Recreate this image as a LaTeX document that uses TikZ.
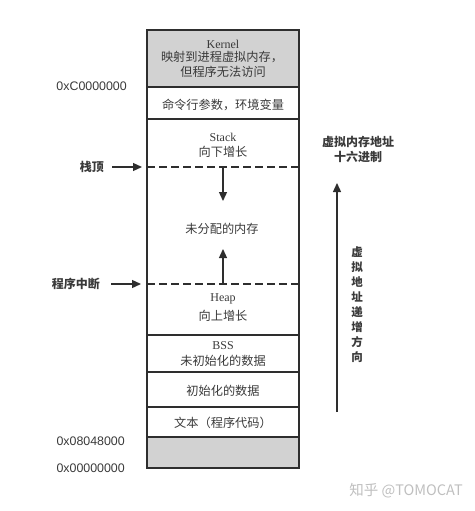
\documentclass[tikz,border=0pt]{standalone}
\usepackage{fontspec}
\setmainfont{Liberation Serif}
\newfontfamily\cjk{Noto Sans CJK SC}
\newfontfamily\hexf{Liberation Sans}
\usetikzlibrary{arrows.meta}
\definecolor{tx}{HTML}{3A3A3A}
\definecolor{ln}{HTML}{2E2E2E}
\definecolor{gfill}{HTML}{D2D2D2}
\begin{document}
\begin{tikzpicture}[x=1pt,y=-1pt,
 seg/.style={draw=ln,line width=1.5pt,anchor=north west,minimum width=152pt,inner sep=0pt,outer sep=0pt},
 lbl/.style={text=tx,font=\cjk\fontsize{12.2}{14}\selectfont,align=center,inner sep=0pt},
 en/.style={text=tx,font=\fontsize{12}{14}\selectfont,inner sep=0pt},
 hex/.style={text=tx,font=\hexf\fontsize{12.4}{14}\selectfont,anchor=east,inner sep=0pt},
 side/.style={text=tx,font=\cjk\bfseries\fontsize{12}{14}\selectfont,inner sep=0pt},
 arr/.style={draw=ln,line width=1.3pt,-{Triangle[length=9pt,width=8pt]}},
 dashline/.style={draw=ln,line width=1.3pt,dash pattern=on 8pt off 4pt}]
\useasboundingbox (0,0) rectangle (474,511);
% segments
\node[seg,fill=gfill,minimum height=57pt] (kern) at (147,30) {};
\node[seg,minimum height=32pt] (cmd) at (147,87) {};
\node[seg,minimum height=216pt] (mid) at (147,119) {};
\node[seg,minimum height=37pt] (bss) at (147,335) {};
\node[seg,minimum height=35pt] (data) at (147,372) {};
\node[seg,minimum height=30pt] (text) at (147,407) {};
\node[seg,fill=gfill,minimum height=31pt] (low) at (147,437) {};
% texts in segments
\node[en] (kt) at (223,44) {Kernel};
\node[lbl] (k1) at (222,57.5) {映射到进程虚拟内存，};
\node[lbl] (k2) at (223,71.5) {但程序无法访问};
\node[lbl] (ct) at (223,104.5) {命令行参数，环境变量};
\node[en] (st) at (223,137) {Stack};
\node[lbl] (st2) at (223,152) {向下增长};
\node[lbl] (un) at (222,229) {未分配的内存};
\node[en] (hp) at (223,299) {Heap};
\node[lbl] (hp2) at (223,316) {向上增长};
\node[en] (bs) at (223,346) {BSS};
\node[lbl] (bs2) at (223,361) {未初始化的数据};
\node[lbl] (dt) at (223,390.5) {初始化的数据};
\node[lbl] (tt) at (223,422.5) {文本（程序代码）};
% dashed boundaries
\coordinate (stl) at (147,167);
\coordinate (str) at (299,167);
\coordinate (hpl) at (147,284);
\coordinate (hpr) at (299,284);
\draw[dashline] (stl) -- (str);
\draw[dashline] (hpl) -- (hpr);
% growth arrows
\coordinate (ds) at (223,167);
\coordinate (de) at (223,201);
\coordinate (us) at (223,284);
\coordinate (ue) at (223,249);
\draw[arr] (ds) -- (de);
\draw[arr] (us) -- (ue);
% left labels
\node[hex] (h1) at (127,86) {0xC0000000};
\node[hex] (h2) at (125,441) {0x08048000};
\node[hex] (h3) at (125,468) {0x00000000};
\node[side,anchor=east] (top) at (104,167) {栈顶};
\node[side,anchor=east] (brk) at (100,284) {程序中断};
\coordinate (ta) at (142,167);
\coordinate (ba) at (141,284);
\draw[arr] (top.east) ++(8,0) -- (ta);
\draw[arr] (brk.east) ++(11,0) -- (ba);
% right side
\node[side] (va) at (358,142) {虚拟内存地址};
\node[side] (vb) at (358,157) {十六进制};
\coordinate (as) at (337,412);
\coordinate (ae) at (337,183);
\draw[arr] (as) -- (ae);
\node[side,align=center,font=\cjk\bfseries\fontsize{11.5}{15}\selectfont] (vt) at (357,304.5) {虚\\拟\\地\\址\\递\\增\\方\\向};
% watermark
\node[text=black!25,font=\cjk\fontsize{14.5}{16}\selectfont,inner sep=0pt] (wm) at (406,491) {知乎 @TOMOCAT};
\end{tikzpicture}
\end{document}
